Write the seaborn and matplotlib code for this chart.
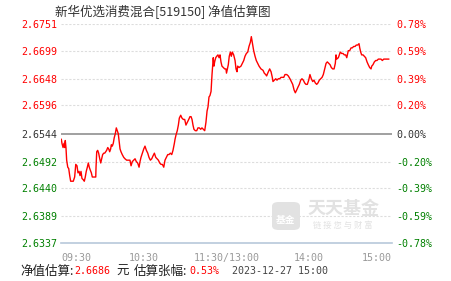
import numpy as np
import pandas as pd
import seaborn as sns
import matplotlib.pyplot as plt
from matplotlib.patches import FancyBboxPatch

# 基础数据
fund_title = "新华优选消费混合[519150] 净值估算图"
base_nav = 2.6544
nav_ticks = ["2.6751", "2.6699", "2.6648", "2.6596", "2.6544", "2.6492", "2.6440", "2.6389", "2.6337"]
pct_ticks = ["0.78%", "0.59%", "0.39%", "0.20%", "0.00%", "-0.20%", "-0.39%", "-0.59%", "-0.78%"]
time_labels = ["09:30", "10:30", "11:30/13:00", "14:00", "15:00"]
est_nav = "2.6686"
est_pct = "0.53%"
est_time = "2023-12-27 15:00"

# 交易分钟 (从 09:30 起, 午休不计)
minutes = [
    0.2, 0.7, 1.5, 2.2, 2.7, 3.1, 3.6, 4.1, 4.9, 5.6, 6.3, 7.0, 8.0, 8.9, 9.9, 10.7,
    11.6, 12.3, 13.1, 13.8, 14.5, 15.2, 16.2, 16.9, 17.6, 18.3, 19.1, 19.8, 20.5, 21.2,
    22.0, 22.7, 24.4, 25.2, 25.4, 25.9, 26.6, 27.3, 28.1, 28.8, 29.5, 30.2, 31.0, 31.7,
    32.4, 33.1, 33.9, 34.6, 35.3, 36.0, 36.5, 37.2, 37.9, 38.6, 39.4, 40.1, 40.8,
    41.5, 42.1, 42.8, 43.5, 44.4, 45.5, 46.4, 47.6, 48.8, 50.0, 50.8, 51.7, 52.7, 53.7,
    54.6, 55.6, 56.6, 57.3, 58.0, 59.0, 60.0, 60.9, 61.9, 62.9, 63.8, 64.8, 65.8, 66.7,
    67.7, 68.7, 69.6, 70.6, 71.6, 72.5, 73.5, 74.5, 75.4, 76.4, 77.4, 78.3, 79.3, 80.3,
    81.2, 82.2,
    82.7, 83.4, 84.3, 85.1, 85.8, 86.8, 87.7, 88.7, 89.7, 90.6, 91.6, 92.6, 93.5, 94.3,
    95.0, 95.7, 96.4, 97.4, 98.4, 99.3, 100.3, 101.3, 102.2, 103.2, 104.2, 105.1, 105.9,
    106.6, 107.3, 108.0, 108.8, 109.5, 110.0, 110.4, 110.9, 111.4, 112.2, 112.9, 113.8,
    114.6, 115.3, 116.0, 116.7, 117.7, 118.7, 119.6, 120.0,
    121.3, 122.0, 122.8, 123.5, 124.2, 125.2, 126.2, 126.9, 127.6, 128.1, 129.1, 130.5,
    131.5, 132.5, 133.4, 134.4, 135.4, 136.3, 137.3, 138.0, 138.7, 139.7, 140.7, 141.6,
    142.6, 143.6, 145.0, 146.5, 147.4, 148.4, 149.1, 149.9, 150.8, 151.3, 152.3, 153.2,
    153.7, 154.7, 155.7, 156.6, 157.6, 158.6, 159.5, 160.5, 161.5,
    162.4, 163.7, 164.8, 166.0, 167.0, 168.0, 169.0, 169.9, 170.9, 171.8, 172.8, 173.8,
    174.7, 175.7, 176.7, 177.6, 178.6, 179.6, 180.5, 181.5, 182.5, 183.4, 184.4, 185.4,
    186.3, 187.3, 188.3, 189.3, 190.2, 191.2, 192.2, 193.1, 194.1, 195.1, 196.0, 197.0,
    198.0, 198.9, 199.4, 199.9,
    201.1, 201.8, 202.5, 203.5, 204.5, 205.4, 206.4, 207.2, 207.9, 208.3, 209.3, 210.3,
    211.2, 212.2, 213.2, 214.1, 215.1, 216.1, 216.6, 217.3, 218.0, 219.0, 219.9, 220.9,
    221.9, 222.8, 223.8, 224.8, 225.3, 226.2, 227.2, 228.2, 229.1, 230.1, 231.1, 232.0,
    233.0, 234.0, 234.9, 236.4, 237.8,
]

# 估算涨幅 (%)
change_pct = [
    -0.04, -0.07, -0.10, -0.07, -0.10, -0.05, -0.10, -0.19, -0.24, -0.25, -0.30, -0.34,
    -0.34, -0.34, -0.31, -0.22, -0.23, -0.28, -0.27, -0.30, -0.27, -0.32, -0.33, -0.34,
    -0.31, -0.27, -0.24, -0.21, -0.24, -0.26, -0.28, -0.31, -0.31, -0.31, -0.24, -0.13,
    -0.12, -0.14, -0.18, -0.21, -0.18, -0.15, -0.14, -0.14, -0.13, -0.12, -0.10, -0.11,
    -0.13, -0.11, -0.08, -0.09, -0.07, -0.03, 0.00, 0.04, 0.02,
    0.00, -0.05, -0.11, -0.13, -0.15, -0.17, -0.18, -0.19, -0.19, -0.19, -0.23, -0.20,
    -0.19, -0.18, -0.20, -0.21, -0.24, -0.20, -0.17, -0.14, -0.11, -0.09, -0.12, -0.14,
    -0.17, -0.19, -0.18, -0.16, -0.14, -0.17, -0.18, -0.19, -0.21, -0.22, -0.22, -0.24,
    -0.19, -0.17, -0.15, -0.15, -0.14, -0.15, -0.12, -0.07,
    -0.04, -0.01, 0.02, 0.06, 0.11, 0.13, 0.11, 0.10, 0.10, 0.06, 0.08, 0.10, 0.12, 0.12,
    0.10, 0.06, 0.03, 0.02, 0.02, 0.04, 0.04, 0.03, 0.04, 0.03, 0.02, 0.08, 0.16, 0.19,
    0.26, 0.27, 0.30, 0.42, 0.49, 0.54, 0.48, 0.51, 0.54, 0.55, 0.56, 0.54, 0.56, 0.51,
    0.48, 0.47, 0.46, 0.46, 0.43,
    0.49, 0.55, 0.58, 0.55, 0.58, 0.56, 0.52, 0.46, 0.44, 0.48, 0.47, 0.48, 0.50, 0.52,
    0.55, 0.57, 0.58, 0.62, 0.65, 0.69, 0.65, 0.59, 0.55, 0.52, 0.50, 0.48, 0.46, 0.45,
    0.43, 0.42, 0.41, 0.43, 0.45, 0.46, 0.44, 0.40, 0.37, 0.38, 0.39, 0.38, 0.39, 0.39,
    0.40, 0.40, 0.40,
    0.42, 0.42, 0.41, 0.39, 0.37, 0.35, 0.31, 0.29, 0.31, 0.33, 0.35, 0.38, 0.39, 0.38,
    0.36, 0.35, 0.35, 0.38, 0.42, 0.39, 0.37, 0.38, 0.36, 0.35, 0.36, 0.38, 0.39, 0.40,
    0.42, 0.46, 0.50, 0.51, 0.50, 0.49, 0.47, 0.46, 0.46, 0.50, 0.56, 0.53,
    0.54, 0.56, 0.58, 0.57, 0.57, 0.56, 0.56, 0.54, 0.57, 0.59, 0.59, 0.61, 0.61, 0.62,
    0.62, 0.63, 0.63, 0.64, 0.61, 0.58, 0.56, 0.56, 0.55, 0.54, 0.51, 0.49, 0.47, 0.46,
    0.48, 0.49, 0.51, 0.52, 0.52, 0.53, 0.53, 0.53, 0.52, 0.53, 0.53, 0.53, 0.53,
]

df = pd.DataFrame({"minute": minutes, "pct": change_pct})

sns.set_style("white")
plt.rcParams['font.family'] = ['Noto Sans CJK SC', 'DejaVu Sans']

RED = "#ff0000"
GREEN = "#008000"
GRAY = "#999999"
MONO = ['DejaVu Sans Mono', 'Noto Sans CJK SC']
FS = 7.2

fig = plt.figure(figsize=(4.51, 2.81), dpi=100)
W, H = 451, 281
ax = fig.add_axes([61 / W, (H - 243) / H, (392 - 61) / W, (243 - 24) / H])

pct_vals = [float(s.rstrip('%')) for s in pct_ticks]
top = pct_vals[0]

# 网格
for v in pct_vals:
    if v == 0:
        ax.axhline(0, color="#999999", lw=1.3, zorder=1)
    elif v != pct_vals[-1]:
        ax.axhline(v, color="#dddddd", lw=0.8, ls=(0, (2, 1.5)), zorder=0)

sns.lineplot(data=df, x="minute", y="pct", ax=ax, color=RED, lw=1.0, zorder=3)

ax.set_xlim(0, 240)
ax.set_ylim(-top, top)
for s in ["left", "right", "top"]:
    ax.spines[s].set_visible(False)
ax.spines["bottom"].set_color("#b8c8da")
ax.spines["bottom"].set_linewidth(1.2)

ax.set_xticks([0, 30, 60, 90, 120, 150, 180, 210, 240])
xt = ["" for _ in range(9)]
xt[0], xt[2], xt[4], xt[6], xt[8] = time_labels
ax.set_xticklabels(xt, color=GRAY, family=MONO, fontsize=FS)
ax.tick_params(axis="x", length=4, width=1, color="#b8c8da", pad=3)
xlabs = ax.get_xticklabels()
xlabs[0].set_ha("left")
xlabs[-1].set_ha("right")
ax.set_xlabel("")
ax.set_ylabel("")

ax.set_yticks(pct_vals)
ax.set_yticklabels(nav_ticks, family=MONO, fontsize=FS)
ax.tick_params(axis="y", length=0, pad=3)
for lab, v in zip(ax.get_yticklabels(), pct_vals):
    lab.set_color(RED if v > 0 else (GREEN if v < 0 else "#333333"))

ax2 = ax.twinx()
ax2.set_ylim(-top, top)
for s in ["left", "right", "top", "bottom"]:
    ax2.spines[s].set_visible(False)
ax2.set_yticks(pct_vals)
ax2.set_yticklabels(pct_ticks, family=MONO, fontsize=FS)
ax2.tick_params(axis="y", length=0, pad=3)
for lab, v in zip(ax2.get_yticklabels(), pct_vals):
    lab.set_color(RED if v > 0 else (GREEN if v < 0 else "#333333"))

# 标题
fig.text(163 / W, 1 - 12 / H, fund_title, ha="center", va="center",
         fontsize=9, color="#333333", family=['Noto Sans CJK SC', 'DejaVu Sans'])

# 水印
wm = "#e2e2e2"
box = FancyBboxPatch((272 / W, 1 - 230 / H), 28 / W, 28 / H,
                     boxstyle="round,pad=0.0,rounding_size=0.015",
                     transform=fig.transFigure, fc=wm, ec="none", zorder=0)
fig.patches.append(box)
fig.text(286 / W, 1 - 220 / H, "基金", ha="center", va="center", fontsize=7,
         color="white", weight="bold")
fig.text(343 / W, 1 - 208 / H, "天天基金", ha="center", va="center", fontsize=13,
         color=wm, weight="bold")
fig.text(343 / W, 1 - 225 / H, "链 接 您 与 财 富", ha="center", va="center",
         fontsize=6, color=wm)

# 底部说明
yb = 1 - 271 / H
fig.text(20 / W, yb, "净值估算:", ha="left", va="center", fontsize=9, color="#222222")
fig.text(74 / W, yb, est_nav, ha="left", va="center", fontsize=FS, color=RED, family=MONO)
fig.text(116 / W, yb, "元", ha="left", va="center", fontsize=9, color="#222222")
fig.text(134 / W, yb, "估算张幅:", ha="left", va="center", fontsize=9, color="#222222")
fig.text(189 / W, yb, est_pct, ha="left", va="center", fontsize=FS, color=RED, family=MONO)
fig.text(232 / W, yb, est_time, ha="left", va="center", fontsize=FS, color="#444444", family=MONO)

fig.savefig("out.png", dpi=100)
